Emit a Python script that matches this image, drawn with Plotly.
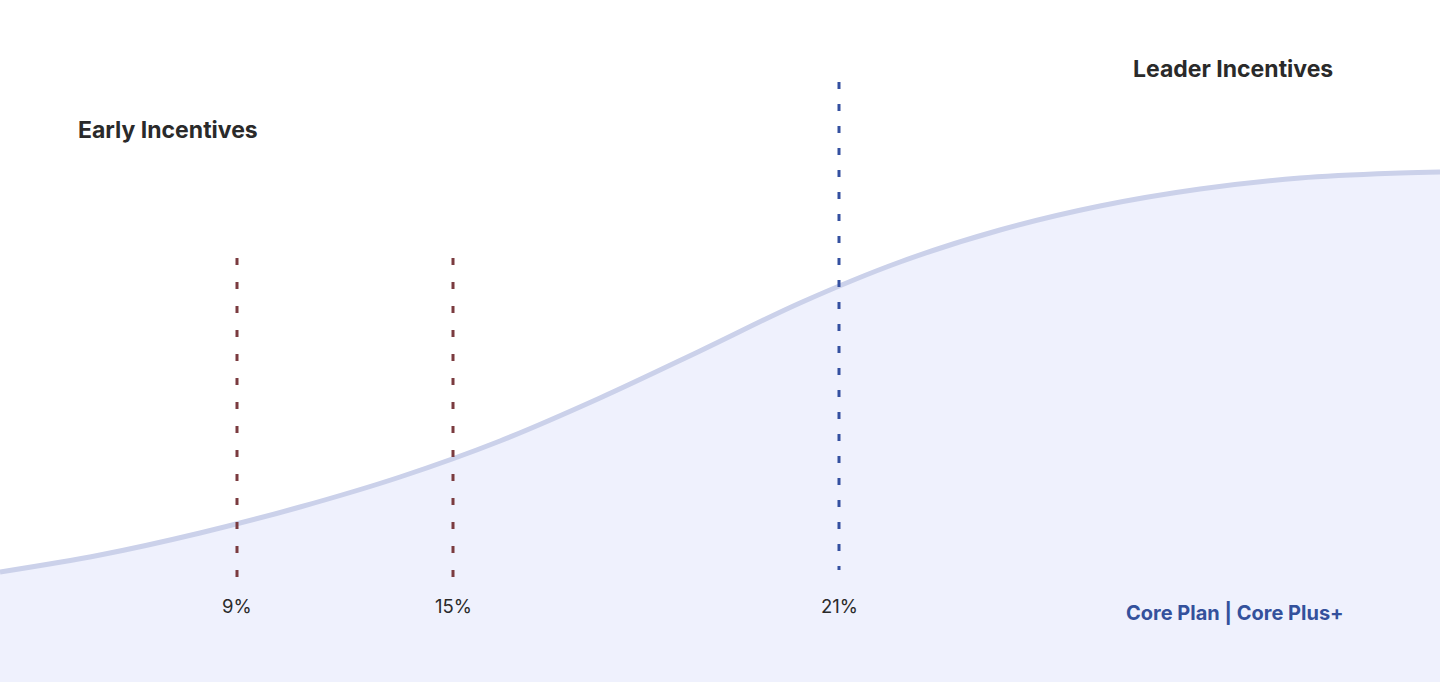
import plotly.graph_objects as go

# Curve of the incentive growth (x position across chart, height from bottom)
curve_x = [0, 100, 200, 300, 400, 500, 600, 700, 800, 900, 1000, 1100, 1200, 1300, 1400, 1440]
curve_y = [110, 127, 149, 175, 205, 241, 284, 331, 379, 420, 452, 476, 493, 504, 509, 510]

# Threshold markers
threshold_labels = ["9%", "15%", "21%"]
threshold_x = [237, 453, 839]
threshold_top = [424, 424, 600]
threshold_bottom = [105, 105, 112]
threshold_colors = ["#7b3b3f", "#7b3b3f", "#3450a0"]
threshold_dash = ["7px,17px", "7px,17px", "7px,15px"]

fig = go.Figure()

fig.add_trace(go.Scatter(
    x=curve_x, y=curve_y, mode="lines",
    line=dict(color="#cbd1ea", width=5, shape="spline", smoothing=1.0),
    fill="tozeroy", fillcolor="#eff1fd", hoverinfo="skip", showlegend=False))

for lab, xx, top, bot, col, d in zip(threshold_labels, threshold_x, threshold_top,
                                     threshold_bottom, threshold_colors, threshold_dash):
    fig.add_trace(go.Scatter(x=[xx, xx], y=[top, bot], mode="lines",
                             line=dict(color=col, width=3, dash=d),
                             hoverinfo="skip", showlegend=False))
    fig.add_annotation(x=xx, y=76, text=lab, showarrow=False,
                       font=dict(family="Inter", size=18.5, color="#2a2a2a"),
                       xanchor="center", yanchor="middle")

fig.add_annotation(x=76, y=552, text="<b>Early Incentives</b>", showarrow=False,
                   font=dict(family="Inter", size=23, color="#2a2a2a"),
                   xanchor="left", yanchor="middle")
fig.add_annotation(x=1131, y=613, text="<b>Leader Incentives</b>", showarrow=False,
                   font=dict(family="Inter", size=23, color="#2a2a2a"),
                   xanchor="left", yanchor="middle")
fig.add_annotation(x=1124, y=69, text="<b>Core Plan | Core Plus+</b>", showarrow=False,
                   font=dict(family="Inter", size=20, color="#34519c"),
                   xanchor="left", yanchor="middle")

fig.update_layout(
    width=1440, height=682, margin=dict(l=0, r=0, t=0, b=0),
    paper_bgcolor="white", plot_bgcolor="white",
    xaxis=dict(range=[0, 1440], visible=False, fixedrange=True),
    yaxis=dict(range=[0, 682], visible=False, fixedrange=True),
)

fig.write_html("out.html", config={"displayModeBar": False},
               post_script="document.body.style.margin='0';document.body.style.overflow='hidden';")
